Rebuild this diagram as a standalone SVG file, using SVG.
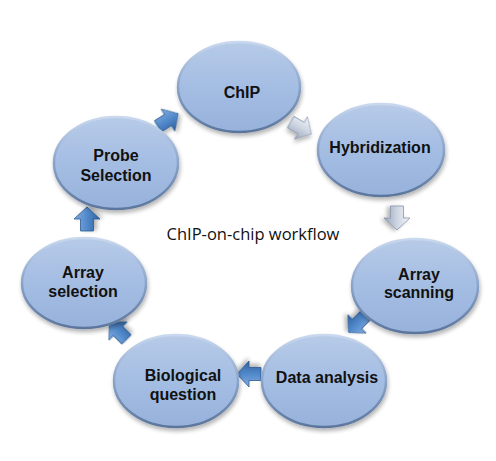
<svg xmlns="http://www.w3.org/2000/svg" width="496" height="461" viewBox="0 0 496 461">
<defs>
<linearGradient id="gFill" x1="0" y1="0" x2="0" y2="1">
<stop offset="0" stop-color="#b7cbe8"/>
<stop offset="0.5" stop-color="#a4bde3"/>
<stop offset="1" stop-color="#97b2db"/>
</linearGradient>
<linearGradient id="gEdge" x1="0" y1="0" x2="0" y2="1">
<stop offset="0" stop-color="#c9d8ee"/>
<stop offset="0.5" stop-color="#8aa3c9"/>
<stop offset="1" stop-color="#5b759c"/>
</linearGradient>
<linearGradient id="gBlue" x1="0" y1="0" x2="0" y2="1">
<stop offset="0" stop-color="#86addf"/>
<stop offset="0.5" stop-color="#5189cb"/>
<stop offset="1" stop-color="#30609e"/>
</linearGradient>
<linearGradient id="gSilver" x1="0" y1="0" x2="0" y2="1">
<stop offset="0" stop-color="#f4f6fb"/>
<stop offset="0.5" stop-color="#cdd5e2"/>
<stop offset="1" stop-color="#98a4b8"/>
</linearGradient>
<filter id="sh" x="-20%" y="-20%" width="140%" height="150%">
<feGaussianBlur in="SourceAlpha" stdDeviation="2"/>
<feOffset dx="1" dy="3" result="b"/>
<feComponentTransfer><feFuncA type="linear" slope="0.3"/></feComponentTransfer>
<feMerge><feMergeNode/><feMergeNode in="SourceGraphic"/></feMerge>
</filter>
<path id="arr" d="M-12,-6.5 H0 V-13 L12,0 L0,13 V6.5 H-12 Z"/>
</defs>
<style>
.node ellipse{fill:url(#gFill);stroke:url(#gEdge);stroke-width:2.5;filter:url(#sh)}
.lbl{font-family:"Liberation Sans",Arial,sans-serif;font-weight:bold;font-size:16px;fill:#111;text-anchor:middle}
.blue{fill:url(#gBlue);stroke:#2c5a93;stroke-width:0.8;filter:url(#sh)}
.silver{fill:url(#gSilver);stroke:#8a96aa;stroke-width:0.8;filter:url(#sh)}
.title{font-family:"Open Sans","Liberation Sans",sans-serif;font-size:16.5px;fill:#111;text-anchor:middle}
</style>
<rect width="496" height="461" fill="#ffffff"/>
<g id="connectors">
<use href="#arr" class="blue" transform="translate(168,120) rotate(-32)"/>
<use href="#arr" class="silver" transform="translate(301,128) rotate(30)"/>
<use href="#arr" class="silver" transform="translate(397,218) rotate(90)"/>
<use href="#arr" class="blue" transform="translate(357,324) rotate(135)"/>
<use href="#arr" class="blue" transform="translate(249,374) rotate(180)"/>
<use href="#arr" class="blue" transform="translate(118,331) rotate(-135)"/>
<use href="#arr" class="blue" transform="translate(87,219) rotate(-90)"/>
</g>
<g id="n-chip" class="node">
<ellipse cx="239" cy="87" rx="61" ry="45"/>
<text class="lbl" x="242" y="98">ChIP</text>
</g>
<g id="n-hyb" class="node">
<ellipse cx="381" cy="150" rx="63" ry="46"/>
<text class="lbl" x="380" y="153">Hybridization</text>
</g>
<g id="n-scan" class="node">
<ellipse cx="415" cy="286" rx="63" ry="47"/>
<text class="lbl" x="419" y="280">Array</text>
<text class="lbl" x="419" y="298">scanning</text>
</g>
<g id="n-data" class="node">
<ellipse cx="324" cy="381" rx="62" ry="46"/>
<text class="lbl" x="327" y="383">Data analysis</text>
</g>
<g id="n-bio" class="node">
<ellipse cx="176" cy="381" rx="62" ry="46"/>
<text class="lbl" x="183" y="381">Biological</text>
<text class="lbl" x="183" y="400">question</text>
</g>
<g id="n-arraysel" class="node">
<ellipse cx="84" cy="283" rx="62" ry="45"/>
<text class="lbl" x="83" y="278">Array</text>
<text class="lbl" x="83" y="297">selection</text>
</g>
<g id="n-probe" class="node">
<ellipse cx="116" cy="163" rx="62" ry="46"/>
<text class="lbl" x="116" y="161">Probe</text>
<text class="lbl" x="116" y="181">Selection</text>
</g>
<text class="title" x="253" y="240">ChIP-on-chip workflow</text>
</svg>
